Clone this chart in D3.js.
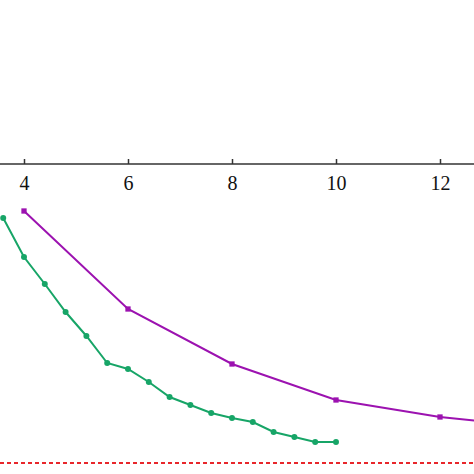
<!DOCTYPE html><html><head><meta charset="utf-8"><script src="https://d3js.org/d3.v7.min.js"></script>
<style>body{margin:0;background:#fff}</style></head><body><svg id="c" width="474" height="474"></svg>
<script>
const xTicks=[4,6,8,10,12];
const greenX=[3.6,4.0,4.4,4.8,5.2,5.6,6.0,6.4,6.8,7.2,7.6,8.0,8.4,8.8,9.2,9.6,10.0];
const greenY=[98,82.4,71.6,60.4,50.8,40,37.6,32.4,26.4,23.2,20,18,16.4,12.4,10.4,8.4,8.4];
const purpleX=[4,6,8,10,12,14];
const purpleY=[100.8,61.6,39.6,25.2,18.4,14];
const refY=0;
const svg=d3.select("#c");
const x=d3.scaleLinear([4,12],[24,440]);
const y=d3.scaleLinear([0,100],[463,213]);
const ax=svg.append("g").attr("transform","translate(0,164)").call(d3.axisTop(x).tickValues(xTicks).tickSize(5).tickFormat(d3.format("d")));
ax.select(".domain").attr("d","M-10,0H484").attr("stroke","#333").attr("stroke-width",1.5);
ax.selectAll(".tick line").attr("stroke","#333").attr("stroke-width",1.5);
ax.selectAll(".tick text").attr("y",19).attr("dy","0.35em").attr("font-family","Liberation Serif").attr("font-size",20).attr("fill","#111");
svg.append("line").attr("x1",0).attr("x2",474).attr("y1",y(refY)).attr("y2",y(refY)).attr("stroke","#e8262b").attr("stroke-width",2).attr("stroke-dasharray","4,3");
function series(xs,ys,col,sym){
  const pts=xs.map((d,i)=>[x(d),y(ys[i])]);
  svg.append("path").attr("d",d3.line()(pts)).attr("fill","none").attr("stroke",col).attr("stroke-width",2);
  svg.selectAll(null).data(pts).enter().append("path").attr("transform",d=>`translate(${d})`).attr("d",d3.symbol(sym,28)).attr("fill",col);
}
series(greenX,greenY,"#17a567",d3.symbolCircle);
series(purpleX,purpleY,"#9c12b0",d3.symbolSquare);
</script></body></html>
